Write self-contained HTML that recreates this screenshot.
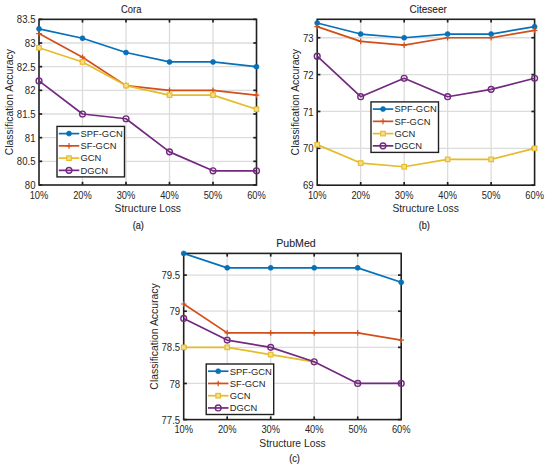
<!DOCTYPE html>
<html><head><meta charset="utf-8"><style>
html,body{margin:0;padding:0;background:#fff;}
svg{display:block;}
text{font-family:"Liberation Sans",sans-serif;fill:#262626;}
.tk{font-size:9.6px;}
.lb{font-size:10.3px;}
.lg{font-size:9.4px;}
.tt{font-size:10px;stroke:#262626;stroke-width:0.1px;}
.cp{font-size:10.2px;stroke:#262626;stroke-width:0.18px;}
</style></head><body>
<svg width="550" height="468" viewBox="0 0 550 468">
<defs><filter id="bl" filterUnits="userSpaceOnUse" x="0" y="0" width="550" height="468"><feConvolveMatrix order="3" kernelMatrix="0.03516 0.11719 0.03516 0.11719 0.39062 0.11719 0.03516 0.11719 0.03516" edgeMode="duplicate" preserveAlpha="false"/></filter><filter id="bt" filterUnits="userSpaceOnUse" x="0" y="0" width="550" height="468"><feConvolveMatrix order="3" kernelMatrix="0.00694 0.06944 0.00694 0.06944 0.69444 0.06944 0.00694 0.06944 0.00694" edgeMode="duplicate" preserveAlpha="false"/></filter></defs>
<rect width="550" height="468" fill="#fff"/>
<g>
<rect width="550" height="468" fill="#fff"/>
<line x1="82.50" y1="19.35" x2="82.50" y2="185.00" stroke="#DCDCDC" stroke-width="1.3"/>
<line x1="126.00" y1="19.35" x2="126.00" y2="185.00" stroke="#DCDCDC" stroke-width="1.3"/>
<line x1="169.50" y1="19.35" x2="169.50" y2="185.00" stroke="#DCDCDC" stroke-width="1.3"/>
<line x1="213.00" y1="19.35" x2="213.00" y2="185.00" stroke="#DCDCDC" stroke-width="1.3"/>
<line x1="39.00" y1="161.34" x2="256.50" y2="161.34" stroke="#DCDCDC" stroke-width="1.3"/>
<line x1="39.00" y1="137.67" x2="256.50" y2="137.67" stroke="#DCDCDC" stroke-width="1.3"/>
<line x1="39.00" y1="114.01" x2="256.50" y2="114.01" stroke="#DCDCDC" stroke-width="1.3"/>
<line x1="39.00" y1="90.34" x2="256.50" y2="90.34" stroke="#DCDCDC" stroke-width="1.3"/>
<line x1="39.00" y1="66.68" x2="256.50" y2="66.68" stroke="#DCDCDC" stroke-width="1.3"/>
<line x1="39.00" y1="43.01" x2="256.50" y2="43.01" stroke="#DCDCDC" stroke-width="1.3"/>
<rect x="39.00" y="19.35" width="217.50" height="165.65" fill="none" stroke="#202020" stroke-width="1.6"/>
<line x1="82.50" y1="185.00" x2="82.50" y2="181.80" stroke="#202020" stroke-width="1.7"/>
<line x1="82.50" y1="19.35" x2="82.50" y2="22.55" stroke="#202020" stroke-width="1.7"/>
<line x1="126.00" y1="185.00" x2="126.00" y2="181.80" stroke="#202020" stroke-width="1.7"/>
<line x1="126.00" y1="19.35" x2="126.00" y2="22.55" stroke="#202020" stroke-width="1.7"/>
<line x1="169.50" y1="185.00" x2="169.50" y2="181.80" stroke="#202020" stroke-width="1.7"/>
<line x1="169.50" y1="19.35" x2="169.50" y2="22.55" stroke="#202020" stroke-width="1.7"/>
<line x1="213.00" y1="185.00" x2="213.00" y2="181.80" stroke="#202020" stroke-width="1.7"/>
<line x1="213.00" y1="19.35" x2="213.00" y2="22.55" stroke="#202020" stroke-width="1.7"/>
<line x1="39.00" y1="185.00" x2="42.20" y2="185.00" stroke="#202020" stroke-width="1.7"/>
<line x1="256.50" y1="185.00" x2="253.30" y2="185.00" stroke="#202020" stroke-width="1.7"/>
<line x1="39.00" y1="161.34" x2="42.20" y2="161.34" stroke="#202020" stroke-width="1.7"/>
<line x1="256.50" y1="161.34" x2="253.30" y2="161.34" stroke="#202020" stroke-width="1.7"/>
<line x1="39.00" y1="137.67" x2="42.20" y2="137.67" stroke="#202020" stroke-width="1.7"/>
<line x1="256.50" y1="137.67" x2="253.30" y2="137.67" stroke="#202020" stroke-width="1.7"/>
<line x1="39.00" y1="114.01" x2="42.20" y2="114.01" stroke="#202020" stroke-width="1.7"/>
<line x1="256.50" y1="114.01" x2="253.30" y2="114.01" stroke="#202020" stroke-width="1.7"/>
<line x1="39.00" y1="90.34" x2="42.20" y2="90.34" stroke="#202020" stroke-width="1.7"/>
<line x1="256.50" y1="90.34" x2="253.30" y2="90.34" stroke="#202020" stroke-width="1.7"/>
<line x1="39.00" y1="66.68" x2="42.20" y2="66.68" stroke="#202020" stroke-width="1.7"/>
<line x1="256.50" y1="66.68" x2="253.30" y2="66.68" stroke="#202020" stroke-width="1.7"/>
<line x1="39.00" y1="43.01" x2="42.20" y2="43.01" stroke="#202020" stroke-width="1.7"/>
<line x1="256.50" y1="43.01" x2="253.30" y2="43.01" stroke="#202020" stroke-width="1.7"/>
<line x1="39.00" y1="19.35" x2="42.20" y2="19.35" stroke="#202020" stroke-width="1.7"/>
<line x1="256.50" y1="19.35" x2="253.30" y2="19.35" stroke="#202020" stroke-width="1.7"/>
<polyline points="39.00,28.82 82.50,38.28 126.00,52.48 169.50,61.95 213.00,61.95 256.50,66.68" fill="none" stroke="#0670B8" stroke-width="1.7" stroke-linejoin="round"/>
<circle cx="39.00" cy="28.82" r="2.5" fill="#0670B8" stroke="#0670B8" stroke-width="0.6"/>
<circle cx="82.50" cy="38.28" r="2.5" fill="#0670B8" stroke="#0670B8" stroke-width="0.6"/>
<circle cx="126.00" cy="52.48" r="2.5" fill="#0670B8" stroke="#0670B8" stroke-width="0.6"/>
<circle cx="169.50" cy="61.95" r="2.5" fill="#0670B8" stroke="#0670B8" stroke-width="0.6"/>
<circle cx="213.00" cy="61.95" r="2.5" fill="#0670B8" stroke="#0670B8" stroke-width="0.6"/>
<circle cx="256.50" cy="66.68" r="2.5" fill="#0670B8" stroke="#0670B8" stroke-width="0.6"/>
<polyline points="39.00,33.55 82.50,57.21 126.00,85.61 169.50,90.34 213.00,90.34 256.50,95.08" fill="none" stroke="#D24F1A" stroke-width="1.7" stroke-linejoin="round"/>
<path d="M36.20,33.55H41.80M39.00,30.75V36.35" stroke="#D24F1A" stroke-width="1.2"/>
<path d="M79.70,57.21H85.30M82.50,54.41V60.01" stroke="#D24F1A" stroke-width="1.2"/>
<path d="M123.20,85.61H128.80M126.00,82.81V88.41" stroke="#D24F1A" stroke-width="1.2"/>
<path d="M166.70,90.34H172.30M169.50,87.54V93.14" stroke="#D24F1A" stroke-width="1.2"/>
<path d="M210.20,90.34H215.80M213.00,87.54V93.14" stroke="#D24F1A" stroke-width="1.2"/>
<path d="M253.70,95.08H259.30M256.50,92.28V97.88" stroke="#D24F1A" stroke-width="1.2"/>
<polyline points="39.00,47.75 82.50,61.95 126.00,85.61 169.50,95.08 213.00,95.08 256.50,109.27" fill="none" stroke="#E6BB2A" stroke-width="1.7" stroke-linejoin="round"/>
<rect x="36.70" y="45.45" width="4.6" height="4.6" fill="#F4DD85" stroke="#E6BB2A" stroke-width="1.1"/>
<rect x="80.20" y="59.65" width="4.6" height="4.6" fill="#F4DD85" stroke="#E6BB2A" stroke-width="1.1"/>
<rect x="123.70" y="83.31" width="4.6" height="4.6" fill="#F4DD85" stroke="#E6BB2A" stroke-width="1.1"/>
<rect x="167.20" y="92.78" width="4.6" height="4.6" fill="#F4DD85" stroke="#E6BB2A" stroke-width="1.1"/>
<rect x="210.70" y="92.78" width="4.6" height="4.6" fill="#F4DD85" stroke="#E6BB2A" stroke-width="1.1"/>
<rect x="254.20" y="106.97" width="4.6" height="4.6" fill="#F4DD85" stroke="#E6BB2A" stroke-width="1.1"/>
<polyline points="39.00,80.88 82.50,114.01 126.00,118.74 169.50,151.87 213.00,170.80 256.50,170.80" fill="none" stroke="#72297F" stroke-width="1.7" stroke-linejoin="round"/>
<circle cx="39.00" cy="80.88" r="2.9" fill="none" stroke="#72297F" stroke-width="1.4"/>
<circle cx="82.50" cy="114.01" r="2.9" fill="none" stroke="#72297F" stroke-width="1.4"/>
<circle cx="126.00" cy="118.74" r="2.9" fill="none" stroke="#72297F" stroke-width="1.4"/>
<circle cx="169.50" cy="151.87" r="2.9" fill="none" stroke="#72297F" stroke-width="1.4"/>
<circle cx="213.00" cy="170.80" r="2.9" fill="none" stroke="#72297F" stroke-width="1.4"/>
<circle cx="256.50" cy="170.80" r="2.9" fill="none" stroke="#72297F" stroke-width="1.4"/>
<rect x="57.00" y="126.40" width="67.5" height="50.5" fill="#ffffff" stroke="#202020" stroke-width="1.4"/>
<line x1="58.80" y1="133.60" x2="79.30" y2="133.60" stroke="#0670B8" stroke-width="1.7"/>
<circle cx="69.00" cy="133.60" r="2.5" fill="#0670B8" stroke="#0670B8" stroke-width="0.6"/>
<line x1="58.80" y1="145.85" x2="79.30" y2="145.85" stroke="#D24F1A" stroke-width="1.7"/>
<path d="M66.20,145.85H71.80M69.00,143.05V148.65" stroke="#D24F1A" stroke-width="1.2"/>
<line x1="58.80" y1="158.10" x2="79.30" y2="158.10" stroke="#E6BB2A" stroke-width="1.7"/>
<rect x="66.70" y="155.80" width="4.6" height="4.6" fill="#F4DD85" stroke="#E6BB2A" stroke-width="1.1"/>
<line x1="58.80" y1="170.35" x2="79.30" y2="170.35" stroke="#72297F" stroke-width="1.7"/>
<circle cx="69.00" cy="170.35" r="2.9" fill="none" stroke="#72297F" stroke-width="1.4"/>
<line x1="360.68" y1="19.30" x2="360.68" y2="185.20" stroke="#DCDCDC" stroke-width="1.3"/>
<line x1="404.16" y1="19.30" x2="404.16" y2="185.20" stroke="#DCDCDC" stroke-width="1.3"/>
<line x1="447.64" y1="19.30" x2="447.64" y2="185.20" stroke="#DCDCDC" stroke-width="1.3"/>
<line x1="491.12" y1="19.30" x2="491.12" y2="185.20" stroke="#DCDCDC" stroke-width="1.3"/>
<line x1="317.20" y1="148.33" x2="534.60" y2="148.33" stroke="#DCDCDC" stroke-width="1.3"/>
<line x1="317.20" y1="111.47" x2="534.60" y2="111.47" stroke="#DCDCDC" stroke-width="1.3"/>
<line x1="317.20" y1="74.60" x2="534.60" y2="74.60" stroke="#DCDCDC" stroke-width="1.3"/>
<line x1="317.20" y1="37.73" x2="534.60" y2="37.73" stroke="#DCDCDC" stroke-width="1.3"/>
<rect x="317.20" y="19.30" width="217.40" height="165.90" fill="none" stroke="#202020" stroke-width="1.6"/>
<line x1="360.68" y1="185.20" x2="360.68" y2="182.00" stroke="#202020" stroke-width="1.7"/>
<line x1="360.68" y1="19.30" x2="360.68" y2="22.50" stroke="#202020" stroke-width="1.7"/>
<line x1="404.16" y1="185.20" x2="404.16" y2="182.00" stroke="#202020" stroke-width="1.7"/>
<line x1="404.16" y1="19.30" x2="404.16" y2="22.50" stroke="#202020" stroke-width="1.7"/>
<line x1="447.64" y1="185.20" x2="447.64" y2="182.00" stroke="#202020" stroke-width="1.7"/>
<line x1="447.64" y1="19.30" x2="447.64" y2="22.50" stroke="#202020" stroke-width="1.7"/>
<line x1="491.12" y1="185.20" x2="491.12" y2="182.00" stroke="#202020" stroke-width="1.7"/>
<line x1="491.12" y1="19.30" x2="491.12" y2="22.50" stroke="#202020" stroke-width="1.7"/>
<line x1="317.20" y1="185.20" x2="320.40" y2="185.20" stroke="#202020" stroke-width="1.7"/>
<line x1="534.60" y1="185.20" x2="531.40" y2="185.20" stroke="#202020" stroke-width="1.7"/>
<line x1="317.20" y1="148.33" x2="320.40" y2="148.33" stroke="#202020" stroke-width="1.7"/>
<line x1="534.60" y1="148.33" x2="531.40" y2="148.33" stroke="#202020" stroke-width="1.7"/>
<line x1="317.20" y1="111.47" x2="320.40" y2="111.47" stroke="#202020" stroke-width="1.7"/>
<line x1="534.60" y1="111.47" x2="531.40" y2="111.47" stroke="#202020" stroke-width="1.7"/>
<line x1="317.20" y1="74.60" x2="320.40" y2="74.60" stroke="#202020" stroke-width="1.7"/>
<line x1="534.60" y1="74.60" x2="531.40" y2="74.60" stroke="#202020" stroke-width="1.7"/>
<line x1="317.20" y1="37.73" x2="320.40" y2="37.73" stroke="#202020" stroke-width="1.7"/>
<line x1="534.60" y1="37.73" x2="531.40" y2="37.73" stroke="#202020" stroke-width="1.7"/>
<polyline points="317.20,22.99 360.68,34.05 404.16,37.73 447.64,34.05 491.12,34.05 534.60,26.67" fill="none" stroke="#0670B8" stroke-width="1.7" stroke-linejoin="round"/>
<circle cx="317.20" cy="22.99" r="2.5" fill="#0670B8" stroke="#0670B8" stroke-width="0.6"/>
<circle cx="360.68" cy="34.05" r="2.5" fill="#0670B8" stroke="#0670B8" stroke-width="0.6"/>
<circle cx="404.16" cy="37.73" r="2.5" fill="#0670B8" stroke="#0670B8" stroke-width="0.6"/>
<circle cx="447.64" cy="34.05" r="2.5" fill="#0670B8" stroke="#0670B8" stroke-width="0.6"/>
<circle cx="491.12" cy="34.05" r="2.5" fill="#0670B8" stroke="#0670B8" stroke-width="0.6"/>
<circle cx="534.60" cy="26.67" r="2.5" fill="#0670B8" stroke="#0670B8" stroke-width="0.6"/>
<polyline points="317.20,26.67 360.68,41.42 404.16,45.11 447.64,37.73 491.12,37.73 534.60,30.36" fill="none" stroke="#D24F1A" stroke-width="1.7" stroke-linejoin="round"/>
<path d="M314.40,26.67H320.00M317.20,23.87V29.47" stroke="#D24F1A" stroke-width="1.2"/>
<path d="M357.88,41.42H363.48M360.68,38.62V44.22" stroke="#D24F1A" stroke-width="1.2"/>
<path d="M401.36,45.11H406.96M404.16,42.31V47.91" stroke="#D24F1A" stroke-width="1.2"/>
<path d="M444.84,37.73H450.44M447.64,34.93V40.53" stroke="#D24F1A" stroke-width="1.2"/>
<path d="M488.32,37.73H493.92M491.12,34.93V40.53" stroke="#D24F1A" stroke-width="1.2"/>
<path d="M531.80,30.36H537.40M534.60,27.56V33.16" stroke="#D24F1A" stroke-width="1.2"/>
<polyline points="317.20,144.65 360.68,163.08 404.16,166.77 447.64,159.39 491.12,159.39 534.60,148.33" fill="none" stroke="#E6BB2A" stroke-width="1.7" stroke-linejoin="round"/>
<rect x="314.90" y="142.35" width="4.6" height="4.6" fill="#F4DD85" stroke="#E6BB2A" stroke-width="1.1"/>
<rect x="358.38" y="160.78" width="4.6" height="4.6" fill="#F4DD85" stroke="#E6BB2A" stroke-width="1.1"/>
<rect x="401.86" y="164.47" width="4.6" height="4.6" fill="#F4DD85" stroke="#E6BB2A" stroke-width="1.1"/>
<rect x="445.34" y="157.09" width="4.6" height="4.6" fill="#F4DD85" stroke="#E6BB2A" stroke-width="1.1"/>
<rect x="488.82" y="157.09" width="4.6" height="4.6" fill="#F4DD85" stroke="#E6BB2A" stroke-width="1.1"/>
<rect x="532.30" y="146.03" width="4.6" height="4.6" fill="#F4DD85" stroke="#E6BB2A" stroke-width="1.1"/>
<polyline points="317.20,56.17 360.68,96.72 404.16,78.29 447.64,96.72 491.12,89.35 534.60,78.29" fill="none" stroke="#72297F" stroke-width="1.7" stroke-linejoin="round"/>
<circle cx="317.20" cy="56.17" r="2.9" fill="none" stroke="#72297F" stroke-width="1.4"/>
<circle cx="360.68" cy="96.72" r="2.9" fill="none" stroke="#72297F" stroke-width="1.4"/>
<circle cx="404.16" cy="78.29" r="2.9" fill="none" stroke="#72297F" stroke-width="1.4"/>
<circle cx="447.64" cy="96.72" r="2.9" fill="none" stroke="#72297F" stroke-width="1.4"/>
<circle cx="491.12" cy="89.35" r="2.9" fill="none" stroke="#72297F" stroke-width="1.4"/>
<circle cx="534.60" cy="78.29" r="2.9" fill="none" stroke="#72297F" stroke-width="1.4"/>
<rect x="371.00" y="101.90" width="67.5" height="50.5" fill="#ffffff" stroke="#202020" stroke-width="1.4"/>
<line x1="372.80" y1="109.10" x2="393.30" y2="109.10" stroke="#0670B8" stroke-width="1.7"/>
<circle cx="383.00" cy="109.10" r="2.5" fill="#0670B8" stroke="#0670B8" stroke-width="0.6"/>
<line x1="372.80" y1="121.35" x2="393.30" y2="121.35" stroke="#D24F1A" stroke-width="1.7"/>
<path d="M380.20,121.35H385.80M383.00,118.55V124.15" stroke="#D24F1A" stroke-width="1.2"/>
<line x1="372.80" y1="133.60" x2="393.30" y2="133.60" stroke="#E6BB2A" stroke-width="1.7"/>
<rect x="380.70" y="131.30" width="4.6" height="4.6" fill="#F4DD85" stroke="#E6BB2A" stroke-width="1.1"/>
<line x1="372.80" y1="145.85" x2="393.30" y2="145.85" stroke="#72297F" stroke-width="1.7"/>
<circle cx="383.00" cy="145.85" r="2.9" fill="none" stroke="#72297F" stroke-width="1.4"/>
<line x1="227.20" y1="253.40" x2="227.20" y2="419.60" stroke="#DCDCDC" stroke-width="1.3"/>
<line x1="270.70" y1="253.40" x2="270.70" y2="419.60" stroke="#DCDCDC" stroke-width="1.3"/>
<line x1="314.20" y1="253.40" x2="314.20" y2="419.60" stroke="#DCDCDC" stroke-width="1.3"/>
<line x1="357.70" y1="253.40" x2="357.70" y2="419.60" stroke="#DCDCDC" stroke-width="1.3"/>
<line x1="183.70" y1="383.47" x2="401.20" y2="383.47" stroke="#DCDCDC" stroke-width="1.3"/>
<line x1="183.70" y1="347.34" x2="401.20" y2="347.34" stroke="#DCDCDC" stroke-width="1.3"/>
<line x1="183.70" y1="311.21" x2="401.20" y2="311.21" stroke="#DCDCDC" stroke-width="1.3"/>
<line x1="183.70" y1="275.08" x2="401.20" y2="275.08" stroke="#DCDCDC" stroke-width="1.3"/>
<rect x="183.70" y="253.40" width="217.50" height="166.20" fill="none" stroke="#202020" stroke-width="1.6"/>
<line x1="227.20" y1="419.60" x2="227.20" y2="416.40" stroke="#202020" stroke-width="1.7"/>
<line x1="227.20" y1="253.40" x2="227.20" y2="256.60" stroke="#202020" stroke-width="1.7"/>
<line x1="270.70" y1="419.60" x2="270.70" y2="416.40" stroke="#202020" stroke-width="1.7"/>
<line x1="270.70" y1="253.40" x2="270.70" y2="256.60" stroke="#202020" stroke-width="1.7"/>
<line x1="314.20" y1="419.60" x2="314.20" y2="416.40" stroke="#202020" stroke-width="1.7"/>
<line x1="314.20" y1="253.40" x2="314.20" y2="256.60" stroke="#202020" stroke-width="1.7"/>
<line x1="357.70" y1="419.60" x2="357.70" y2="416.40" stroke="#202020" stroke-width="1.7"/>
<line x1="357.70" y1="253.40" x2="357.70" y2="256.60" stroke="#202020" stroke-width="1.7"/>
<line x1="183.70" y1="419.60" x2="186.90" y2="419.60" stroke="#202020" stroke-width="1.7"/>
<line x1="401.20" y1="419.60" x2="398.00" y2="419.60" stroke="#202020" stroke-width="1.7"/>
<line x1="183.70" y1="383.47" x2="186.90" y2="383.47" stroke="#202020" stroke-width="1.7"/>
<line x1="401.20" y1="383.47" x2="398.00" y2="383.47" stroke="#202020" stroke-width="1.7"/>
<line x1="183.70" y1="347.34" x2="186.90" y2="347.34" stroke="#202020" stroke-width="1.7"/>
<line x1="401.20" y1="347.34" x2="398.00" y2="347.34" stroke="#202020" stroke-width="1.7"/>
<line x1="183.70" y1="311.21" x2="186.90" y2="311.21" stroke="#202020" stroke-width="1.7"/>
<line x1="401.20" y1="311.21" x2="398.00" y2="311.21" stroke="#202020" stroke-width="1.7"/>
<line x1="183.70" y1="275.08" x2="186.90" y2="275.08" stroke="#202020" stroke-width="1.7"/>
<line x1="401.20" y1="275.08" x2="398.00" y2="275.08" stroke="#202020" stroke-width="1.7"/>
<polyline points="183.70,253.40 227.20,267.85 270.70,267.85 314.20,267.85 357.70,267.85 401.20,282.30" fill="none" stroke="#0670B8" stroke-width="1.7" stroke-linejoin="round"/>
<circle cx="183.70" cy="253.40" r="2.5" fill="#0670B8" stroke="#0670B8" stroke-width="0.6"/>
<circle cx="227.20" cy="267.85" r="2.5" fill="#0670B8" stroke="#0670B8" stroke-width="0.6"/>
<circle cx="270.70" cy="267.85" r="2.5" fill="#0670B8" stroke="#0670B8" stroke-width="0.6"/>
<circle cx="314.20" cy="267.85" r="2.5" fill="#0670B8" stroke="#0670B8" stroke-width="0.6"/>
<circle cx="357.70" cy="267.85" r="2.5" fill="#0670B8" stroke="#0670B8" stroke-width="0.6"/>
<circle cx="401.20" cy="282.30" r="2.5" fill="#0670B8" stroke="#0670B8" stroke-width="0.6"/>
<polyline points="183.70,303.98 227.20,332.89 270.70,332.89 314.20,332.89 357.70,332.89 401.20,340.11" fill="none" stroke="#D24F1A" stroke-width="1.7" stroke-linejoin="round"/>
<path d="M180.90,303.98H186.50M183.70,301.18V306.78" stroke="#D24F1A" stroke-width="1.2"/>
<path d="M224.40,332.89H230.00M227.20,330.09V335.69" stroke="#D24F1A" stroke-width="1.2"/>
<path d="M267.90,332.89H273.50M270.70,330.09V335.69" stroke="#D24F1A" stroke-width="1.2"/>
<path d="M311.40,332.89H317.00M314.20,330.09V335.69" stroke="#D24F1A" stroke-width="1.2"/>
<path d="M354.90,332.89H360.50M357.70,330.09V335.69" stroke="#D24F1A" stroke-width="1.2"/>
<path d="M398.40,340.11H404.00M401.20,337.31V342.91" stroke="#D24F1A" stroke-width="1.2"/>
<polyline points="183.70,347.34 227.20,347.34 270.70,354.57 314.20,361.79" fill="none" stroke="#E6BB2A" stroke-width="1.7" stroke-linejoin="round"/>
<rect x="181.40" y="345.04" width="4.6" height="4.6" fill="#F4DD85" stroke="#E6BB2A" stroke-width="1.1"/>
<rect x="224.90" y="345.04" width="4.6" height="4.6" fill="#F4DD85" stroke="#E6BB2A" stroke-width="1.1"/>
<rect x="268.40" y="352.27" width="4.6" height="4.6" fill="#F4DD85" stroke="#E6BB2A" stroke-width="1.1"/>
<polyline points="183.70,318.43 227.20,340.11 270.70,347.34 314.20,361.79 357.70,383.47 401.20,383.47" fill="none" stroke="#72297F" stroke-width="1.7" stroke-linejoin="round"/>
<circle cx="183.70" cy="318.43" r="2.9" fill="none" stroke="#72297F" stroke-width="1.4"/>
<circle cx="227.20" cy="340.11" r="2.9" fill="none" stroke="#72297F" stroke-width="1.4"/>
<circle cx="270.70" cy="347.34" r="2.9" fill="none" stroke="#72297F" stroke-width="1.4"/>
<circle cx="314.20" cy="361.79" r="2.9" fill="none" stroke="#72297F" stroke-width="1.4"/>
<circle cx="357.70" cy="383.47" r="2.9" fill="none" stroke="#72297F" stroke-width="1.4"/>
<circle cx="401.20" cy="383.47" r="2.9" fill="none" stroke="#72297F" stroke-width="1.4"/>
<rect x="206.20" y="364.00" width="67.5" height="50.5" fill="#ffffff" stroke="#202020" stroke-width="1.4"/>
<line x1="208.00" y1="371.20" x2="228.50" y2="371.20" stroke="#0670B8" stroke-width="1.7"/>
<circle cx="218.20" cy="371.20" r="2.5" fill="#0670B8" stroke="#0670B8" stroke-width="0.6"/>
<line x1="208.00" y1="383.45" x2="228.50" y2="383.45" stroke="#D24F1A" stroke-width="1.7"/>
<path d="M215.40,383.45H221.00M218.20,380.65V386.25" stroke="#D24F1A" stroke-width="1.2"/>
<line x1="208.00" y1="395.70" x2="228.50" y2="395.70" stroke="#E6BB2A" stroke-width="1.7"/>
<rect x="215.90" y="393.40" width="4.6" height="4.6" fill="#F4DD85" stroke="#E6BB2A" stroke-width="1.1"/>
<line x1="208.00" y1="407.95" x2="228.50" y2="407.95" stroke="#72297F" stroke-width="1.7"/>
<circle cx="218.20" cy="407.95" r="2.9" fill="none" stroke="#72297F" stroke-width="1.4"/>
</g>
<g>
<text transform="translate(35.50,189.10) scale(1,1.07)" text-anchor="end" class="tk">80</text>
<text transform="translate(35.50,165.44) scale(1,1.07)" text-anchor="end" class="tk">80.5</text>
<text transform="translate(35.50,141.77) scale(1,1.07)" text-anchor="end" class="tk">81</text>
<text transform="translate(35.50,118.11) scale(1,1.07)" text-anchor="end" class="tk">81.5</text>
<text transform="translate(35.50,94.44) scale(1,1.07)" text-anchor="end" class="tk">82</text>
<text transform="translate(35.50,70.78) scale(1,1.07)" text-anchor="end" class="tk">82.5</text>
<text transform="translate(35.50,47.11) scale(1,1.07)" text-anchor="end" class="tk">83</text>
<text transform="translate(35.50,23.45) scale(1,1.07)" text-anchor="end" class="tk">83.5</text>
<text transform="translate(39.00,198.70) scale(0.97,1.08)" text-anchor="middle" class="tk">10%</text>
<text transform="translate(82.50,198.70) scale(0.97,1.08)" text-anchor="middle" class="tk">20%</text>
<text transform="translate(126.00,198.70) scale(0.97,1.08)" text-anchor="middle" class="tk">30%</text>
<text transform="translate(169.50,198.70) scale(0.97,1.08)" text-anchor="middle" class="tk">40%</text>
<text transform="translate(213.00,198.70) scale(0.97,1.08)" text-anchor="middle" class="tk">50%</text>
<text transform="translate(256.50,198.70) scale(0.97,1.08)" text-anchor="middle" class="tk">60%</text>
<text x="147.80" y="212.20" text-anchor="middle" class="lb">Structure Loss</text>
<text transform="translate(12.70,102.17) rotate(-90)" text-anchor="middle" class="lb" style="font-size:10.4px">Classification Accuracy</text>
<text transform="translate(131.20,12.9) scale(0.88,1)" text-anchor="middle" class="tt" style="font-size:10.7px">Cora</text>
<text transform="translate(138.30,228.90) scale(0.9,1)" text-anchor="middle" class="cp">(a)</text>
<text x="80.50" y="136.90" class="lg">SPF-GCN</text>
<text x="80.50" y="149.15" class="lg">SF-GCN</text>
<text x="80.50" y="161.40" class="lg">GCN</text>
<text x="80.50" y="173.65" class="lg">DGCN</text>
<text transform="translate(313.70,189.30) scale(1,1.07)" text-anchor="end" class="tk">69</text>
<text transform="translate(313.70,152.43) scale(1,1.07)" text-anchor="end" class="tk">70</text>
<text transform="translate(313.70,115.57) scale(1,1.07)" text-anchor="end" class="tk">71</text>
<text transform="translate(313.70,78.70) scale(1,1.07)" text-anchor="end" class="tk">72</text>
<text transform="translate(313.70,41.83) scale(1,1.07)" text-anchor="end" class="tk">73</text>
<text transform="translate(317.20,198.90) scale(0.97,1.08)" text-anchor="middle" class="tk">10%</text>
<text transform="translate(360.68,198.90) scale(0.97,1.08)" text-anchor="middle" class="tk">20%</text>
<text transform="translate(404.16,198.90) scale(0.97,1.08)" text-anchor="middle" class="tk">30%</text>
<text transform="translate(447.64,198.90) scale(0.97,1.08)" text-anchor="middle" class="tk">40%</text>
<text transform="translate(491.12,198.90) scale(0.97,1.08)" text-anchor="middle" class="tk">50%</text>
<text transform="translate(534.60,198.90) scale(0.97,1.08)" text-anchor="middle" class="tk">60%</text>
<text x="425.60" y="212.40" text-anchor="middle" class="lb">Structure Loss</text>
<text transform="translate(298.90,102.25) rotate(-90)" text-anchor="middle" class="lb" style="font-size:10.4px">Classification Accuracy</text>
<text x="428.20" y="13.30" text-anchor="middle" class="tt" style="font-size:10px">Citeseer</text>
<text transform="translate(424.30,229.10) scale(0.9,1)" text-anchor="middle" class="cp">(b)</text>
<text x="394.50" y="112.40" class="lg">SPF-GCN</text>
<text x="394.50" y="124.65" class="lg">SF-GCN</text>
<text x="394.50" y="136.90" class="lg">GCN</text>
<text x="394.50" y="149.15" class="lg">DGCN</text>
<text transform="translate(180.20,423.70) scale(1,1.07)" text-anchor="end" class="tk">77.5</text>
<text transform="translate(180.20,387.57) scale(1,1.07)" text-anchor="end" class="tk">78</text>
<text transform="translate(180.20,351.44) scale(1,1.07)" text-anchor="end" class="tk">78.5</text>
<text transform="translate(180.20,315.31) scale(1,1.07)" text-anchor="end" class="tk">79</text>
<text transform="translate(180.20,279.18) scale(1,1.07)" text-anchor="end" class="tk">79.5</text>
<text transform="translate(183.70,433.30) scale(0.97,1.08)" text-anchor="middle" class="tk">10%</text>
<text transform="translate(227.20,433.30) scale(0.97,1.08)" text-anchor="middle" class="tk">20%</text>
<text transform="translate(270.70,433.30) scale(0.97,1.08)" text-anchor="middle" class="tk">30%</text>
<text transform="translate(314.20,433.30) scale(0.97,1.08)" text-anchor="middle" class="tk">40%</text>
<text transform="translate(357.70,433.30) scale(0.97,1.08)" text-anchor="middle" class="tk">50%</text>
<text transform="translate(401.20,433.30) scale(0.97,1.08)" text-anchor="middle" class="tk">60%</text>
<text x="292.50" y="446.80" text-anchor="middle" class="lb">Structure Loss</text>
<text transform="translate(157.90,336.50) rotate(-90)" text-anchor="middle" class="lb" style="font-size:10.4px">Classification Accuracy</text>
<text x="296.00" y="247.40" text-anchor="middle" class="tt" style="font-size:10.6px">PubMed</text>
<text transform="translate(294.50,462.00) scale(0.9,1)" text-anchor="middle" class="cp">(c)</text>
<text x="229.70" y="374.50" class="lg">SPF-GCN</text>
<text x="229.70" y="386.75" class="lg">SF-GCN</text>
<text x="229.70" y="399.00" class="lg">GCN</text>
<text x="229.70" y="411.25" class="lg">DGCN</text>
</g>
</svg></body></html>
